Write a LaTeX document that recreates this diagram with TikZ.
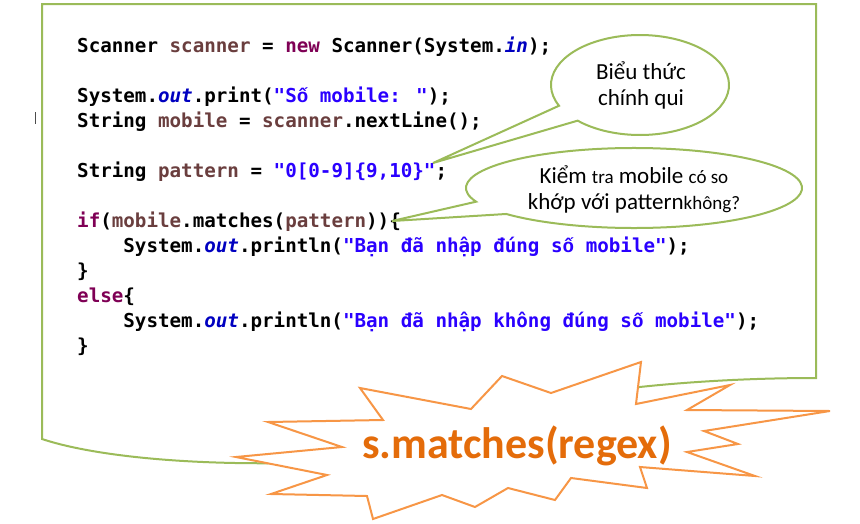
\documentclass[tikz,border=0pt]{standalone}
\usepackage{fontspec}
\usetikzlibrary{calc}
\setmainfont{Carlito}
\newfontfamily\codefont{DejaVu Sans Mono}
\newfontfamily\vnmono{Liberation Mono}
\definecolor{grn}{HTML}{9BBB59}
\definecolor{org}{HTML}{F79646}
\definecolor{kw}{HTML}{7F0055}
\definecolor{vr}{HTML}{6A3E3E}
\definecolor{st}{HTML}{2A00FF}
\definecolor{fl}{HTML}{0000C0}
\definecolor{burst}{HTML}{E46C0A}
\newcommand{\K}[1]{\textcolor{kw}{#1}}
\newcommand{\V}[1]{\textcolor{vr}{#1}}
\newcommand{\Sg}[1]{\textcolor{st}{#1}}
\newcommand{\F}[1]{\textcolor{fl}{\itshape #1}}
\newcommand{\oo}{{\vnmono ố}}
\newcommand{\sm}[1]{{\fontsize{19}{24}\selectfont #1}}
\begin{document}
\begin{tikzpicture}[x=1pt,y=-1pt,
  code/.style={anchor=west,inner sep=0pt,font=\codefont\bfseries\fontsize{19.2}{25}\selectfont},
  callout/.style={draw=grn,line width=2pt,fill=white,line join=miter},
  bubble/.style={align=center,inner sep=0pt,font=\fontsize{23}{26}\selectfont}]
\useasboundingbox (0,0) rectangle (860,523);
% main callout
\draw[callout] (42,4) -- (816,4) -- (816,378) .. controls (720,378) and (640,386) .. (600,392)
  -- (420,450) -- (290,463) .. controls (180,465) and (90,455) .. (42,439) -- cycle;
\draw[black!70,line width=0.8pt] (35,112) -- (35,124);
% code
\node[code] (l1) at (77,47) {Scanner \V{scanner} = \K{new} Scanner(System.\F{in});};
\node[code] (l3) at (77,97) {System.\F{out}.print(\Sg{"S\oo{} mobile: "});};
\node[code] (l4) at (77,122) {String \V{mobile} = \V{scanner}.nextLine();};
\node[code] (l6) at (77,172) {String \V{pattern} = \Sg{"0[0-9]\{9,10\}"};};
\node[code] (l8) at (77,222) {\K{if}(\V{mobile}.matches(\V{pattern}))\{};
\node[code] (l9) at (77,247) {\ \ \ \ System.\F{out}.println(\Sg{"Bạn đã nhập đúng s\oo{} mobile"});};
\node[code] (l10) at (77,272) {\}};
\node[code] (l11) at (77,297) {\K{else}\{};
\node[code] (l12) at (77,322) {\ \ \ \ System.\F{out}.println(\Sg{"Bạn đã nhập không đúng s\oo{} mobile"});};
\node[code] (l13) at (77,347) {\}};
% bubble 1
\coordinate (c1) at (640,85);
\coordinate (t1) at (433,163);
\draw[callout] ($(c1)+(134.5:89 and 50)$) -- (t1) -- ($(c1)+(155.5:89 and 50)$)
  arc[start angle=155.5,end angle=494.5,x radius=89,y radius=50] -- cycle;
\node[bubble] (b1) at (641,85) {Biểu thức\\chính qui};
% bubble 2
\coordinate (c2) at (634,188);
\coordinate (t2) at (392,221);
\draw[callout] ($(c2)+(139.5:168 and 40)$) -- (t2) -- ($(c2)+(160:168 and 40)$)
  arc[start angle=160,end angle=499.5,x radius=168,y radius=40] -- cycle;
\node[bubble] (b2) at (634,189) {Kiểm \sm{tra} mobile \sm{có so}\\khớp với pattern\sm{không?}};
% starburst
\draw[draw=org,line width=2pt,fill=white,line join=miter]
 (360,388) -- (471,409) -- (502,376) -- (551,393) -- (641,362) -- (636,404) -- (730,385)
 -- (687,410) -- (830,411) -- (704,431) -- (738,444) -- (687,452) -- (755,476) -- (640,467)
 -- (647,488) -- (571,478) -- (555,500) -- (508,488) -- (475,507) -- (442,495) -- (373,519)
 -- (367,496) -- (271,494) -- (327,475) -- (236,457) -- (342,447) -- (268,422) -- (383,420) -- cycle;
\node[inner sep=0pt,text=burst,font=\bfseries\fontsize{44}{50}\selectfont] (sm) at (517,446) {s.matches(regex)};
\end{tikzpicture}
\end{document}
